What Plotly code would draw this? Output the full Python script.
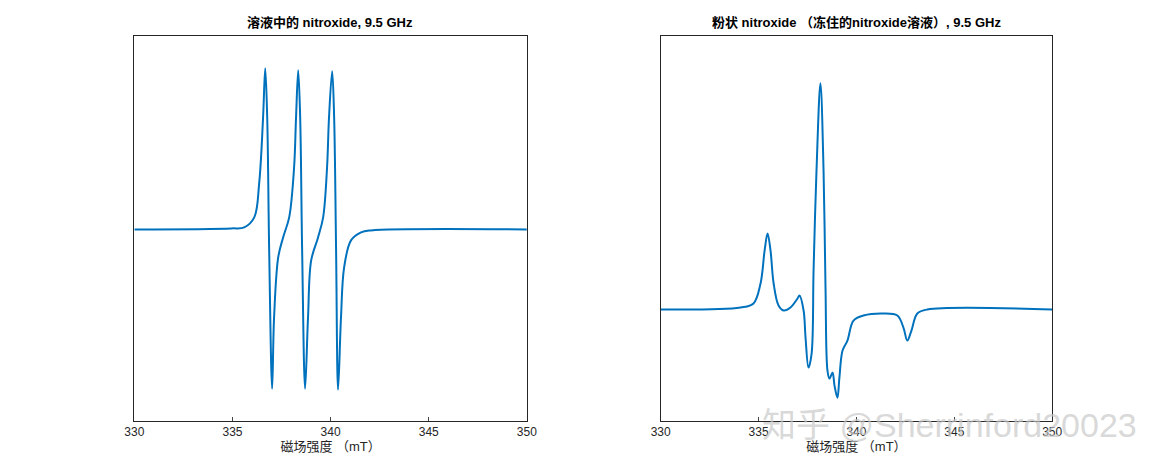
import plotly.graph_objects as go

# solution spectrum (field in mT, derivative intensity a.u.)
sol_field = [330.00, 334.94, 335.60, 336.11, 336.36, 336.56, 336.67, 336.77, 336.87, 337.02,
             337.12, 337.33, 337.58, 337.89, 338.14, 338.24, 338.35, 338.45, 338.55, 338.70,
             338.85, 339.01, 339.36, 339.62, 339.82, 339.92, 340.08, 340.18, 340.28, 340.38,
             340.53, 340.69, 341.04, 341.55, 342.06, 350.00]
sol_signal = [0, 1, 2, 12, 46, 112, 161, 112, -21, -159,
              -88, -28, -8, 12, 62, 112, 159, 112, -21, -159,
              -88, -31, -8, 12, 62, 112, 158, 112, -21, -160,
              -88, -38, -11, -3, -1, 0]

# powder (frozen solution) spectrum
pow_field = [330.00, 334.08, 334.74, 335.10, 335.31, 335.46, 335.61, 335.77, 336.02, 336.28,
             336.63, 336.99, 337.09, 337.30, 337.40, 337.55, 337.71, 337.81, 337.96, 338.16,
             338.32, 338.42, 338.52, 338.62, 338.78, 338.88, 339.03, 339.13, 339.29, 339.54,
             339.85, 340.36, 341.38, 342.09, 342.40, 342.60, 342.81, 343.11, 343.62, 350.00]
pow_signal = [0, 2, 6, 26, 59, 76, 59, 26, 4, -1,
              2, 11, 14, -1, -28, -58, -44, 39, 139, 226,
              139, 22, -61, -69, -63, -76, -88, -68, -41, -31,
              -11, -6, -4, -6, -18, -31, -21, -4, 0, 0]

BLUE = "#0072BD"
FONT = "Liberation Sans, Noto Sans CJK SC, Arial"

fig = go.Figure()
fig.add_trace(go.Scatter(x=sol_field, y=sol_signal, mode="lines",
                         line=dict(color=BLUE, width=2, shape="spline", smoothing=1.0),
                         xaxis="x", yaxis="y", showlegend=False))
fig.add_trace(go.Scatter(x=pow_field, y=pow_signal, mode="lines",
                         line=dict(color=BLUE, width=2, shape="spline", smoothing=1.0),
                         xaxis="x2", yaxis="y2", showlegend=False))

ax = dict(range=[330, 350], tickvals=[330, 335, 340, 345, 350], showline=True, linecolor="#262626",
          linewidth=1, mirror=True, ticks="inside", ticklen=4, showgrid=False, zeroline=False,
          tickfont=dict(size=12, color="#262626"),
          title=dict(text="磁场强度 （mT）", font=dict(size=13, color="#262626"), standoff=2))
ay = dict(showline=True, linecolor="#262626", linewidth=1, mirror=True, showticklabels=False,
          ticks="", showgrid=False, zeroline=False, domain=[0.133, 0.941])

fig.update_layout(
    width=1164, height=476, margin=dict(l=0, r=0, t=0, b=0),
    paper_bgcolor="white", plot_bgcolor="white", font=dict(family=FONT),
    xaxis=dict(ax, domain=[0.1017, 0.4448]),
    yaxis=dict(ay, range=[-191, 193]),
    xaxis2=dict(ax, domain=[0.5618, 0.904], anchor="y2"),
    yaxis2=dict(ay, range=[-111, 273], anchor="x2"),
    annotations=[
        dict(text="<b>溶液中的 nitroxide, 9.5 GHz</b>", x=0.273, y=0.95, xref="paper", yref="paper",
             xanchor="center", yanchor="bottom", showarrow=False, font=dict(size=13, color="black")),
        dict(text="<b>粉状 nitroxide （冻住的nitroxide溶液）, 9.5 GHz</b>", x=0.733, y=0.95, xref="paper",
             yref="paper", xanchor="center", yanchor="bottom", showarrow=False, font=dict(size=13, color="black")),
        dict(text="知乎 @Sherrinford20023", x=0.98, y=0.08, xref="paper", yref="paper",
             xanchor="right", yanchor="bottom", showarrow=False,
             font=dict(size=34, color="rgba(200,200,200,0.7)")),
    ],
)

fig.write_html("out.html")
